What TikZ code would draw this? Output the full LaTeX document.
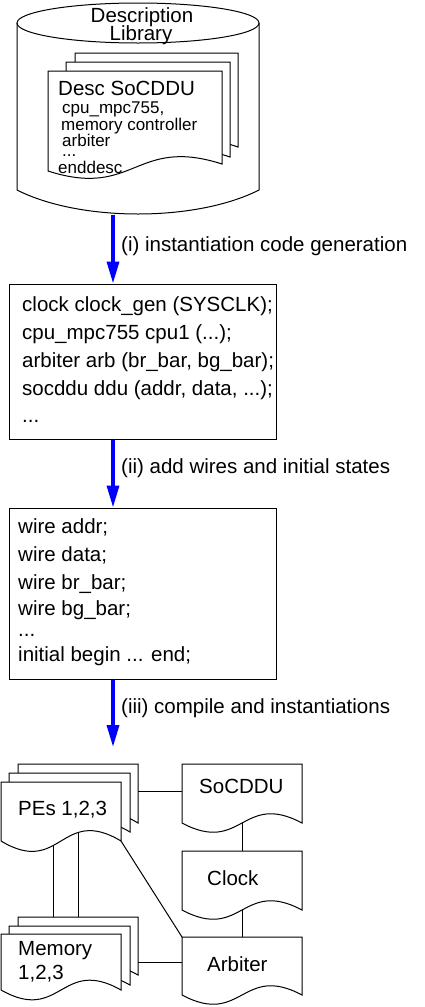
\documentclass[tikz,border=0pt]{standalone}
\usepackage{fontspec}
\setmainfont{Liberation Sans}
\usetikzlibrary{arrows.meta}
% document page: x0, top, x1, yLeft, yRight, depth
\newcommand\docpage[6]{%
  \filldraw[fill=white, thinline] (#1,#2) -- (#3,#2) -- (#3,#5)
    .. controls ({(#1+#3)/2},{#5-#6}) and ({(#1+#3)/2},{#4+#6}) .. (#1,#4) -- cycle;}
\begin{document}
\begin{tikzpicture}[x=1pt,y=-1pt,
  thinline/.style={draw=black, line width=1pt},
  conn/.style={draw=black, line width=1pt},
  arr/.style={draw=blue, line width=3.5pt, -{Triangle[length=22pt,width=12pt,fill=blue]}},
  big/.style={font=\fontsize{20.5}{24}\selectfont, inner sep=0pt, anchor=base west},
  small/.style={font=\fontsize{17}{20}\selectfont, inner sep=0pt, anchor=base west},
  codebox/.style={draw=black, line width=1pt, inner sep=0pt, fill=white}]
\useasboundingbox (0,0) rectangle (425,1007);

% ---------- cylinder (Description Library) ----------
\filldraw[fill=white, thinline] (17,23) -- (17,190)
   .. controls (80,222) and (196,222) .. (259,190) -- (259,23);
\draw[thinline] (138,23) ellipse [x radius=121, y radius=20];
\node[big, anchor=base] (desc1) at (142,22.5) {Description};
\node[big, anchor=base] (desc2) at (141,40) {Library};

% stacked description pages
\docpage{75}{53}{238}{154}{147}{28}
\docpage{66}{62}{230}{164}{157}{28}
\docpage{48}{71}{222}{171}{164}{28}
\node[big] (dt) at (58,95) {Desc SoCDDU};
\node[small] (d1) at (62,113) {cpu\_mpc755,};
\node[small] (d2) at (61,130) {memory controller};
\node[small] (d3) at (62,146) {arbiter};
\node[small] (d4) at (62,156) {...};
\node[small] (d5) at (58,173) {enddesc};
\coordinate (cylbot) at (113,215);

% ---------- code box 1 ----------
\node[codebox, minimum width=267pt, minimum height=155pt] (box1) at (142.5,361.5) {};
\node[big] (c1) at (22,311) {clock clock\_gen (SYSCLK);};
\node[big] (c2) at (22,339) {cpu\_mpc755 cpu1 (...);};
\node[big] (c3) at (22,367) {arbiter arb (br\_bar, bg\_bar);};
\node[big] (c4) at (22,395) {socddu ddu (addr, data, ...);};
\node[big] (c5) at (22,422) {...};

% ---------- code box 2 ----------
\node[codebox, minimum width=267pt, minimum height=171pt] (box2) at (142.5,593.5) {};
\node[big] (w1) at (18,533) {wire addr;};
\node[big] (w2) at (18,561) {wire data;};
\node[big] (w3) at (18,589) {wire br\_bar;};
\node[big] (w4) at (18,615) {wire bg\_bar;};
\node[big] (w5) at (18,636) {...};
\node[big] (w6) at (18,661) {initial begin ... end;};

% ---------- arrows ----------
\coordinate (a3end) at (113,747);
\draw[arr] (cylbot) -- (cylbot |- box1.north);
\draw[arr] (cylbot |- box1.south) -- (cylbot |- box2.north);
\draw[arr] (cylbot |- box2.south) -- (a3end);
\node[big] (l1) at (121,251) {(i) instantiation code generation};
\node[big] (l2) at (121,473) {(ii) add wires and initial states};
\node[big] (l3) at (121,713) {(iii) compile and instantiations};

% ---------- bottom: connectors first ----------
\coordinate (peR) at (138,791);
\coordinate (socL) at (182,791);
\coordinate (socB) at (242,823);
\coordinate (clkT) at (242,851);
\coordinate (clkB) at (242,910);
\coordinate (arbT) at (242,937);
\coordinate (peA) at (53,830);
\coordinate (memA) at (53,918);
\coordinate (peB) at (78,830);
\coordinate (memB) at (78,918);
\coordinate (memR) at (138,962);
\coordinate (arbL) at (182,962);
\coordinate (peC) at (121,841);
\coordinate (arbC) at (182,937);
\draw[conn] (peR) -- (socL);
\draw[conn] (socB) -- (clkT);
\draw[conn] (clkB) -- (arbT);
\draw[conn] (peA) -- (memA);
\draw[conn] (peB) -- (memB);
\draw[conn] (memR) -- (arbL);
\draw[conn] (peC) -- (arbC);

% PEs stack
\docpage{18}{764}{138}{823}{823}{36}
\docpage{9}{773}{130}{832}{832}{36}
\docpage{1}{782}{121}{841}{841}{36}
\node[big] (pe) at (18,815) {PEs 1,2,3};

% Memory stack
\docpage{18}{917}{138}{975}{975}{34}
\docpage{9}{926}{130}{985}{985}{34}
\docpage{1}{934}{121}{990}{990}{34}
\node[big] (m1) at (18,955) {Memory};
\node[big] (m2) at (18,979) {1,2,3};

% SoCDDU, Clock, Arbiter
\docpage{182}{764}{302}{823}{823}{32}
\node[big] (soc) at (199,793) {SoCDDU};
\docpage{182}{851}{302}{910}{910}{32}
\node[big] (clk) at (207,885) {Clock};
\docpage{182}{937}{302}{995}{995}{32}
\node[big] (arb) at (207,971) {Arbiter};
\end{tikzpicture}
\end{document}
